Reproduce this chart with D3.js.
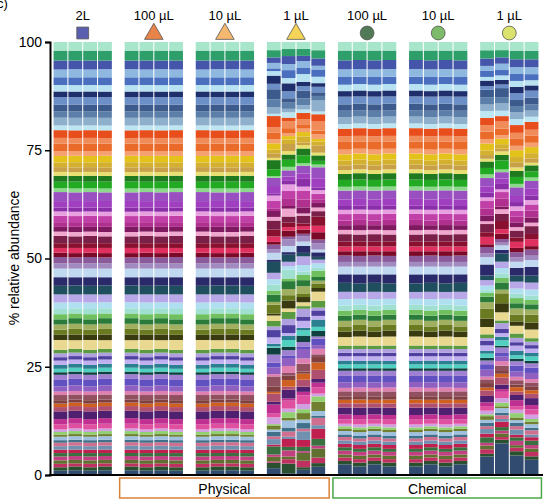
<!DOCTYPE html>
<html><head><meta charset="utf-8">
<script src="https://cdn.jsdelivr.net/npm/d3@7"></script>
<style>body{margin:0;background:#fff}svg{font-family:Arial,"Liberation Sans",sans-serif}</style>
</head><body><svg id="c" width="556" height="500"></svg>
<script>
// taxa colours, bottom to top
const taxaColors = ["#304a70","#2a5030","#c03060","#607030","#c04080","#3a7040","#c02050","#7090b0","#d07090","#40708a",
"#a0c0e0","#708030","#90d070","#d0a0e0","#e050a0","#c03090","#502070","#b05070","#d06020","#804040",
"#905060","#e080b0","#9060c0","#6050c0","#a080d0","#104040","#50d0c0","#2a8090","#c0b0f0","#5040a0",
"#b0a0e0","#5a9a40","#e8d890","#3a3a10","#6a7a20","#a0b060","#2a7a3a","#70c060","#a0e0d0","#b0e0f0",
"#b8a8e8","#1f4f5f","#2a2a6a","#c0d8f0","#a08ac0","#8a5a9a","#7a0a28","#e03060","#8a1030","#7a2048",
"#f0a8d0","#801a60","#b03090","#c040a8","#e8a0e0","#8a2fa8","#a040c0","#9a4fc0","#8ed88e","#22aa22",
"#1f7a1f","#e8e070","#c8a048","#d4b030","#e3c21c","#f5a070","#ea6a2a","#f08c5a","#e84e1b","#bde6f2",
"#8fb0cc","#5b7fa8","#3c5a8c","#6b8fc6","#1f2f6b","#b8e2f2","#4a6fbf","#8fb8e0","#4455aa","#2e9e6a",
"#a8e6cc"];
const typical = [1.0,.8,.8,.8,.9,.8,.8,.8,.8,.6, .8,.5,.6,.6,1.2,1.2,1.8,1.0,.8,.8, 1.2,.8,1.2,1.5,1.2,.6,.8,.9,1.0,.8, .9,.8,2.3,1.2,1.2,1.2,1.2,1.2,1.2,1.5, 1.9,2.0,2.0,2.0,1.2,1.5,1.0,1.1,1.1,1.7, 1.0,1.1,1.1,1.5,1.0,.9,1.5,2.1,.9,1.5, 1.4,.9,1.1,1.1,1.5,1.1,1.8,1.3,1.8,1.1, 1.8,1.5,1.5,1.8,1.3,1.5,1.8,1.8,2.1,2.3, 2.0];
const typical2 = [1.1,.9,.7,.8,.9,.7,.8,.9,.8,.6, .8,.5,.7,.6,1.1,1.3,1.7,1.1,.8,.7, 1.2,.8,1.3,1.5,1.1,.6,.9,.9,1.0,.8, .8,.9,2.0,1.3,1.3,1.2,1.3,1.1,1.2,1.4, 1.8,2.1,1.9,2.0,1.2,1.4,1.0,1.2,1.1,1.6, 1.0,1.2,1.1,1.4,1.0,1.0,1.5,2.0,.9,1.6, 1.3,.9,1.1,1.2,1.5,1.1,1.7,1.3,1.8,1.1, 1.8,1.5,1.6,1.7,1.3,1.5,1.8,1.9,2.0,2.3, 2.0];
const chem = [2.5,.8,.8,.7,.9,.8,.8,.8,.8,.6, .8,.5,.6,.6,1.0,1.2,1.6,1.0,.8,.8, 1.2,.8,1.3,1.5,1.2,.6,.9,.9,1.0,.8, .9,.8,2.0,1.3,1.2,1.3,1.2,1.2,1.2,1.5, 1.7,2.1,2.0,1.8,1.1,1.5,1.0,1.1,1.2,1.7, 1.0,1.1,1.1,1.5,1.0,.9,1.5,2.1,.9,1.6, 1.4,.9,1.1,1.1,1.5,1.1,1.8,1.3,1.8,1.1, 1.6,1.5,1.5,1.8,1.3,1.5,1.8,1.8,2.1,2.3, 2.0];
const chem2 = [2.0,.9,.8,.8,.9,.7,.9,.8,.7,.6, .9,.5,.6,.7,1.1,1.1,1.7,1.0,.9,.8, 1.1,.9,1.3,1.4,1.2,.6,.9,.8,1.1,.8, .9,.8,2.1,1.4,1.3,1.2,1.2,1.1,1.2,1.4, 1.6,2.0,2.1,1.8,1.1,1.4,1.1,1.1,1.2,1.6, 1.0,1.2,1.2,1.4,1.0,.9,1.6,2.0,.9,1.6, 1.5,.9,1.1,1.2,1.4,1.1,1.7,1.3,1.8,1.1, 1.6,1.5,1.5,1.7,1.4,1.5,1.7,1.8,2.1,2.2, 2.0];
const p1 = [1.5,1.2,.3,1.0,.5,1.8,.4,1.2,.6,1.0, .5,.9,.3,1.5,.8,2.0,.6,1.8,.4,1.2, 2.2,.5,1.5,1.0,1.8,1.5,.3,.6,1.4,1.6, .8,1.2,1.2,.4,2.0,.6,1.6,.9,1.3,1.2, 1.4,2.4,.5,1.5,.8,1.0,.6,1.2,1.5,2.0, .8,1.3,.6,1.6,1.2,.5,1.6,1.8,.4,1.5, 2.0,.5,1.0,.8,1.4,.9,1.4,1.2,2.5,.5, 1.4,1.8,2.2,1.2,1.8,1.0,.6,1.2,1.2,1.6, 1.8];
const p2 = [.4,2.2,1.0,.6,1.4,.8,1.8,.5,1.2,.9, 1.6,.6,1.3,.8,1.8,.5,2.0,.7,1.5,1.0, .6,1.6,1.8,.6,1.2,.8,1.5,1.0,.6,1.8, 1.4,1.6,.8,1.8,1.2,1.4,1.8,.6,2.0,.8, 1.0,1.6,.6,1.4,1.5,.6,1.4,.8,1.0,1.4, 1.8,.6,1.6,1.8,1.5,.8,1.0,1.4,.8,1.6, 1.2,.8,1.6,1.0,.8,.6,1.2,1.6,.8,1.2, .8,1.4,1.0,1.6,1.8,1.2,1.8,1.4,1.8,1.6, 1.6];
const p3 = [1.2,.6,1.5,1.8,.4,1.0,1.6,2.0,.6,1.3, .8,1.5,.9,1.2,2.0,.8,1.2,1.6,1.4,.5, 1.8,1.2,2.2,.6,1.0,1.5,1.2,.6,1.6,1.0, 1.8,.6,.9,1.2,.7,1.8,1.4,1.2,.8,1.5, 2.0,.8,1.6,1.0,1.2,.6,1.0,.8,.6,1.8, .5,1.4,1.8,2.0,1.0,1.8,1.2,1.8,.6,1.8, 1.6,.8,.6,1.4,1.0,.8,1.0,1.2,1.4,.8, 1.0,1.6,1.8,1.0,1.0,1.8,1.4,1.6,1.2,1.6, 1.6];
const p4 = [1.8,.8,1.2,2.0,.6,1.5,2.2,.8,1.6,.5, 1.0,2.0,1.2,.6,1.4,1.0,.8,2.0,1.6,1.2, .6,1.2,.8,1.4,.5,1.2,.9,1.6,.8,1.2, .6,1.5,2.0,.8,1.0,.6,.8,1.4,.6,1.0, .8,.6,1.0,.6,1.4,.8,1.6,1.4,2.0,1.2, .8,1.0,.8,1.2,.8,.6,2.0,2.4,.6,.8, 1.2,.6,1.6,.8,.6,1.0,.8,2.0,1.6,.6, 2.4,1.0,.8,1.2,.8,1.4,1.6,.8,1.6,1.8, 1.8];
const q1 = [4.0,.6,1.0,.8,.6,1.2,.8,1.0,.6,.8, .6,.8,.4,.8,1.0,.8,1.4,1.2,.6,1.0, .8,.6,1.5,1.2,.8,.6,.9,.6,1.2,1.0, .6,.8,1.6,1.8,2.2,1.4,1.2,.8,.6,1.0, 1.2,1.0,2.4,1.6,.8,1.4,.6,1.6,1.0,1.8, .6,1.2,1.6,1.6,.8,1.0,1.4,1.8,.8,1.4, 1.4,.6,.8,1.0,1.5,1.0,1.6,1.4,1.6,1.5, 1.4,1.6,1.6,.8,1.2,.8,1.4,1.0,1.6,1.8, 1.8];
const q2 = [7.0,.8,.6,.8,.6,.8,1.2,.6,.8,.6, 1.0,.4,.8,1.0,1.4,.6,1.0,1.6,.8,.6, 1.2,1.0,1.0,.8,1.2,.4,1.2,.8,.8,1.0, 1.2,.6,1.8,2.0,2.2,.8,1.6,1.0,1.0,1.2, 1.4,1.8,.8,1.0,.6,.8,1.2,1.0,1.8,1.6, 1.0,.6,1.8,1.4,.6,1.2,1.2,1.4,.6,2.0, 1.2,.8,.6,1.0,1.2,.8,1.4,1.6,1.2,1.2, 1.6,1.4,2.0,.8,1.0,1.0,1.2,1.4,1.4,1.6, 1.8];
const q3 = [4.5,1.0,.8,.6,1.0,.8,.6,1.2,.8,.8, .6,.6,1.0,.8,.8,1.4,1.2,.8,1.0,.6, 1.0,.8,1.2,1.4,1.0,.6,.8,1.0,1.2,.8, 1.0,1.0,1.8,1.0,1.6,1.4,1.2,1.2,1.0,1.2, 1.6,1.4,1.8,1.4,1.0,1.2,1.0,1.4,1.0,1.6, .8,1.0,1.4,1.4,1.0,1.0,1.4,2.0,.8,1.6, 1.4,.8,1.2,1.2,1.6,1.0,1.6,1.4,1.8,1.4, 1.6,1.4,1.4,1.6,1.4,1.4,1.6,1.6,1.8,2.0, 2.0];
const q4 = [3.5,.8,1.0,.8,.8,1.0,.8,.6,1.0,.6, .8,.6,.6,1.0,1.2,1.0,1.6,1.0,.8,.8, 1.0,.8,1.4,1.2,1.0,.6,1.0,.8,1.0,.8, .8,.8,2.0,1.6,1.8,1.2,1.2,1.0,1.0,1.4, 1.6,1.6,2.0,1.6,1.0,1.4,.8,1.6,1.2,1.8, .8,1.2,1.6,1.4,1.0,1.0,1.6,1.8,.8,1.4, 1.4,.6,1.0,1.2,1.4,1.0,1.6,1.4,1.8,1.2, 1.4,1.4,1.6,1.6,1.2,1.2,1.4,1.6,1.8,2.0, 2.0];

const groupLabels = ["2L","100 µL","10 µL","1 µL","100 µL","10 µL","1 µL"];
const groupSymbols = ["square","triangle","triangle","triangle","circle","circle","circle"];
const symbolColors = ["#5a5fb0","#e8844a","#f5b870","#f5d457","#4f7a55","#7dba6a","#dbe36e"];
const groupSamples = [
  [typical,typical2,typical,typical2],
  [typical2,typical,typical2,typical],
  [typical,typical2,typical2,typical],
  [p1,p2,p3,p4],
  [chem,chem2,chem,chem2],
  [chem2,chem,chem2,chem],
  [q1,q2,q3,q4]];
const yTicks = [0,25,50,75,100];

const svg = d3.select("#c");
const y = d3.scaleLinear().domain([0,100]).range([475,42]);
const x0 = d3.scaleBand().domain(d3.range(7)).range([50,542]).paddingInner(0.18).paddingOuter(0.05);
const x1 = d3.scaleBand().domain(d3.range(4)).range([0,x0.bandwidth()]).paddingInner(0.07);

groupSamples.forEach((samples,g)=>{
  samples.forEach((vals,i)=>{
    const tot = d3.sum(vals);
    let cum = 0;
    const segs = vals.map((v,k)=>{const s={k,y0:cum/tot*100,y1:(cum+v)/tot*100};cum+=v;return s;});
    svg.append("g").selectAll("rect").data(segs).join("rect")
      .attr("x",x0(g)+x1(i)).attr("width",x1.bandwidth())
      .attr("y",d=>y(d.y1)).attr("height",d=>Math.max(0,y(d.y0)-y(d.y1)))
      .attr("fill",d=>taxaColors[d.k]);
  });
  const cx = x0(g)+x0.bandwidth()/2;
  svg.append("text").attr("x",cx).attr("y",20).attr("text-anchor","middle").attr("font-size",13).text(groupLabels[g]);
  const sym = groupSymbols[g]==="square"?d3.symbolSquare:groupSymbols[g]==="triangle"?d3.symbolTriangle:d3.symbolCircle;
  const size = groupSymbols[g]==="square"?140:groupSymbols[g]==="triangle"?150:150;
  svg.append("path").attr("d",d3.symbol().type(sym).size(size)())
    .attr("transform",`translate(${cx},${groupSymbols[g]==="triangle"?34:33})`)
    .attr("fill",symbolColors[g]).attr("stroke","#555").attr("stroke-width",0.8);
});

const ax = svg.append("g").attr("transform","translate(50,0)")
  .call(d3.axisLeft(y).tickValues(yTicks).tickSize(5).tickPadding(3));
ax.selectAll("text").attr("font-size",14).attr("fill","#000");
ax.select(".domain").attr("stroke-width",2);
ax.selectAll(".tick line").attr("stroke-width",1.5);
svg.append("line").attr("x1",49).attr("x2",543).attr("y1",y(0)).attr("y2",y(0)).attr("stroke","#000").attr("stroke-width",2);

svg.append("text").attr("transform","translate(19,258) rotate(-90)").attr("text-anchor","middle").attr("font-size",14).text("% relative abundance");
svg.append("text").attr("x",-3).attr("y",8).attr("font-size",13).text("c)");

const boxes = [{l:"Physical",g0:1,g1:3,c:"#d9823a"},{l:"Chemical",g0:4,g1:6,c:"#4aa84a"}];
boxes.forEach(b=>{
  const xa = x0(b.g0)-5, xb = x0(b.g1)+x0.bandwidth()+ (b.g1===6?3:4);
  svg.append("rect").attr("x",xa).attr("y",478).attr("width",xb-xa).attr("height",20)
    .attr("fill","none").attr("stroke",b.c).attr("stroke-width",1.5);
  svg.append("text").attr("x",(xa+xb)/2).attr("y",494).attr("text-anchor","middle").attr("font-size",14).text(b.l);
});
</script></body></html>
